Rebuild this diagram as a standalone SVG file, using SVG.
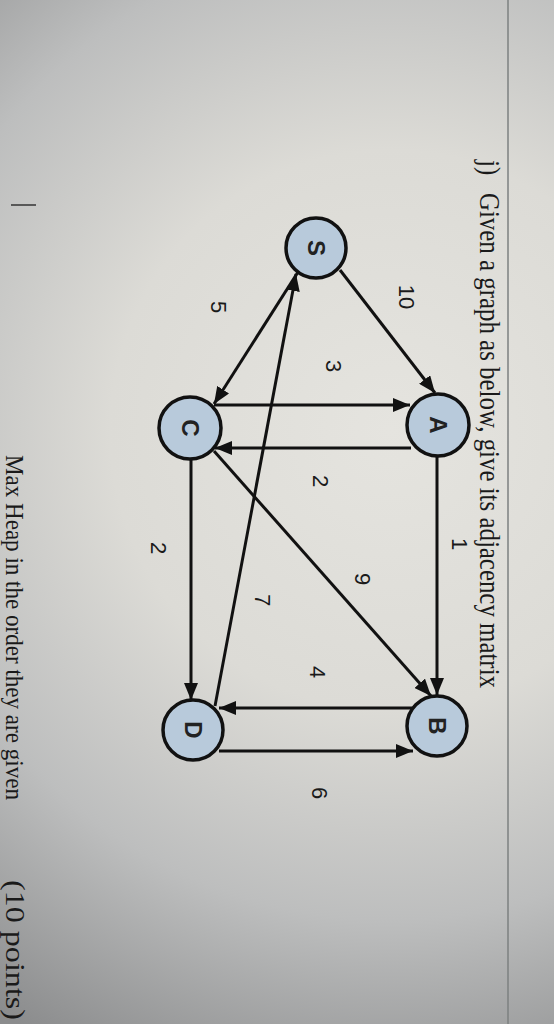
<svg xmlns="http://www.w3.org/2000/svg" width="554" height="1024" viewBox="0 0 554 1024">
  <defs>
    <radialGradient id="bg" gradientUnits="userSpaceOnUse" cx="390" cy="430" r="700">
      <stop offset="0" stop-color="#e5e4df"/>
      <stop offset="0.4" stop-color="#dcdbd6"/>
      <stop offset="0.7" stop-color="#bdbebe"/>
      <stop offset="1" stop-color="#8b8c8d"/>
    </radialGradient>
    <marker id="arr" markerUnits="userSpaceOnUse" markerWidth="18" markerHeight="14" refX="17" refY="7" orient="auto">
      <path d="M0,0 L17,7 L0,14 Z" fill="#111"/>
    </marker>
    <style>
      .edge { stroke: #111; stroke-width: 3; fill: none; marker-end: url(#arr); }
      .node circle { fill: #b8cadb; stroke: #111; stroke-width: 3.5; }
      .nl { font-family: "Liberation Sans", Arial, sans-serif; font-size: 24px; font-weight: 600; fill: #222; text-anchor: middle; dominant-baseline: central; }
      .wl { font-family: "Liberation Sans", Arial, sans-serif; font-size: 22px; fill: #1a1a1a; text-anchor: middle; dominant-baseline: central; }
      .tt { font-family: "Liberation Serif", "Times New Roman", serif; font-size: 25px; fill: #1a1a1a; }
    </style>
  </defs>

  <rect x="0" y="0" width="554" height="1024" fill="url(#bg)"/>
  <line x1="508" y1="0" x2="508" y2="1024" stroke="#7d8081" stroke-width="1.5"/>

  <!-- title -->
  <g id="title">
    <text class="tt" transform="translate(480,160) rotate(90) scale(1,1.15)">j)</text>
    <text class="tt" transform="translate(480,193) rotate(90) scale(1,1.15)" textLength="495" lengthAdjust="spacingAndGlyphs">Given a graph as below, give its adjacency matrix</text>
  </g>
  <g id="edge-text">
    <text class="tt" transform="translate(6,455) rotate(90)" textLength="345" lengthAdjust="spacingAndGlyphs">Max Heap in the order they are given</text>
    <text class="tt" transform="translate(6,880) rotate(90) scale(1,1.05)" textLength="140" lengthAdjust="spacingAndGlyphs">(10 points)</text>
    <line x1="11" y1="205" x2="36" y2="205" stroke="#333" stroke-width="1.5"/>
  </g>

  <!-- connectors -->
  <g id="connectors">
    <line class="edge" x1="340" y1="270" x2="435" y2="393"/>
    <line class="edge" x1="298" y1="272" x2="214" y2="404"/>
    <line class="edge" x1="215" y1="706" x2="296" y2="274"/>
    <line class="edge" x1="214" y1="405" x2="410" y2="405"/>
    <line class="edge" x1="411" y1="448" x2="215" y2="448"/>
    <line class="edge" x1="437" y1="456" x2="437" y2="695"/>
    <line class="edge" x1="214" y1="451" x2="431" y2="696"/>
    <line class="edge" x1="191" y1="460" x2="191" y2="700"/>
    <line class="edge" x1="412" y1="708" x2="219" y2="708"/>
    <line class="edge" x1="219" y1="751" x2="413" y2="751"/>
  </g>

  <!-- weights -->
  <g id="weights">
    <text class="wl" transform="translate(406,297) rotate(90)">10</text>
    <text class="wl" transform="translate(333,366) rotate(90)">3</text>
    <text class="wl" transform="translate(218,307) rotate(90)">5</text>
    <text class="wl" transform="translate(320,481) rotate(90)">2</text>
    <text class="wl" transform="translate(459,544) rotate(90)">1</text>
    <text class="wl" transform="translate(362,579) rotate(90)">9</text>
    <text class="wl" transform="translate(262,600) rotate(90)">7</text>
    <text class="wl" transform="translate(317,672) rotate(90)">4</text>
    <text class="wl" transform="translate(158,548) rotate(90)">2</text>
    <text class="wl" transform="translate(319,793) rotate(90)">6</text>
  </g>

  <!-- nodes -->
  <g id="node-S" class="node">
    <circle cx="316" cy="248" r="30"/>
    <text class="nl" transform="translate(316,248) rotate(90)">S</text>
  </g>
  <g id="node-A" class="node">
    <circle cx="438" cy="425" r="31"/>
    <text class="nl" transform="translate(438,425) rotate(90)">A</text>
  </g>
  <g id="node-C" class="node">
    <circle cx="190" cy="428" r="31"/>
    <text class="nl" transform="translate(190,428) rotate(90)">C</text>
  </g>
  <g id="node-B" class="node">
    <circle cx="437" cy="726" r="30"/>
    <text class="nl" transform="translate(437,726) rotate(90)">B</text>
  </g>
  <g id="node-D" class="node">
    <circle cx="193" cy="730" r="30"/>
    <text class="nl" transform="translate(193,730) rotate(90)">D</text>
  </g>
</svg>
